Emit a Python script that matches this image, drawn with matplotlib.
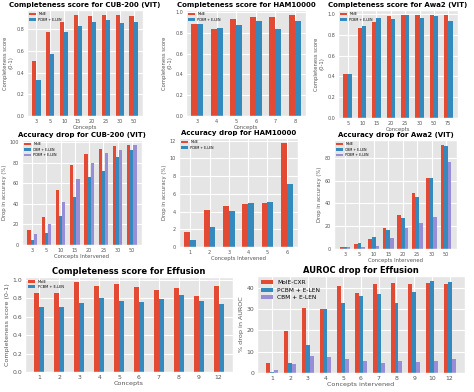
import matplotlib
matplotlib.use("Agg")
import matplotlib.pyplot as plt
import numpy as np

plt.style.use("ggplot")

W, H = 474, 392

# ---- data ----
cub_comp_cats = ["3", "5", "10", "15", "20", "25", "30", "50"]
cub_comp_moie = [0.51, 0.77, 0.87, 0.93, 0.92, 0.93, 0.93, 0.92]
cub_comp_pcbm = [0.33, 0.57, 0.77, 0.83, 0.87, 0.88, 0.86, 0.87]

ham_comp_cats = ["3", "4", "5", "6", "7", "8"]
ham_comp_moie = [0.88, 0.84, 0.93, 0.95, 0.95, 0.97]
ham_comp_pcbm = [0.88, 0.85, 0.87, 0.91, 0.84, 0.91]

awa_comp_cats = ["5", "10", "15", "20", "25", "30", "50", "75"]
awa_comp_moie = [0.42, 0.87, 0.92, 0.98, 0.99, 0.99, 0.99, 0.99]
awa_comp_pcbm = [0.42, 0.89, 0.96, 0.95, 0.99, 0.96, 0.98, 0.93]

cub_acc_cats = ["3", "5", "10", "15", "20", "25", "30", "50"]
cub_acc_moie = [15, 27, 53, 78, 88, 93, 96, 97]
cub_acc_cbm = [5, 12, 28, 47, 66, 72, 85, 92]
cub_acc_pcbm = [11, 20, 42, 64, 80, 89, 92, 97]

ham_acc_cats = ["1", "2", "3", "4", "5", "6"]
ham_acc_moie = [1.7, 4.2, 4.6, 4.9, 5.0, 11.7]
ham_acc_pcbm = [0.8, 2.2, 4.1, 5.0, 5.1, 7.1]

awa_acc_cats = ["3", "5", "10", "15", "20", "25", "30", "50"]
awa_acc_moie = [1.5, 4.5, 9, 18, 30, 49, 62, 91]
awa_acc_cbm = [1.5, 5, 10.5, 16.5, 27.5, 46, 62, 90]
awa_acc_pcbm = [1.5, 2, 3, 10, 18, 23, 28, 76]

eff_comp_cats = ["1", "2", "3", "4", "5", "6", "7", "8", "9", "12"]
eff_comp_moie = [0.86, 0.86, 0.98, 0.93, 0.95, 0.92, 0.89, 0.91, 0.82, 0.93]
eff_comp_pcbm = [0.70, 0.70, 0.75, 0.80, 0.77, 0.76, 0.79, 0.83, 0.77, 0.74]

eff_auroc_cats = ["1", "2", "3", "4", "5", "6", "7", "8", "9", "10", "12"]
eff_auroc_moie = [4.5, 19.8, 30.5, 30.3, 40.8, 37.6, 41.9, 42.3, 41.6, 42.1, 41.7]
eff_auroc_pcbm = [0.6, 4.7, 13.2, 30.1, 33.0, 36.0, 37.1, 32.7, 38.2, 43.4, 42.6]
eff_auroc_cbm = [1.6, 4.0, 7.8, 7.3, 6.4, 5.8, 4.6, 5.5, 5.4, 5.5, 6.5]

RED, BLUE, PURPLE = "#E24A33", "#348ABD", "#988ED5"

fig = plt.figure(figsize=(W / 100, H / 100), dpi=100)


def add_ax(l, t, r, b):
    return fig.add_axes([l / W, 1 - b / H, (r - l) / W, (b - t) / H])


def panel(ax, cats, series, labels, colors, width, title, xlabel, ylabel,
          tfs, lfs, tkfs, lgfs, yticks=None):
    x = np.arange(len(cats))
    n = len(series)
    for i, (vals, lab, col) in enumerate(zip(series, labels, colors)):
        off = (i - (n - 1) / 2) * width
        ax.bar(x + off, vals, width, label=lab, color=col)
    ax.set_xticks(x)
    ax.set_xticklabels(cats)
    if yticks is not None:
        ax.set_yticks(yticks)
    ax.tick_params(labelsize=tkfs, length=0, pad=2)
    ax.set_title(title, fontsize=tfs, fontweight="bold", color="black", pad=2)
    ax.set_xlabel(xlabel, fontsize=lfs, labelpad=1)
    ax.set_ylabel(ylabel, fontsize=lfs, labelpad=2)
    ax.legend(loc="upper left", fontsize=lgfs, frameon=False,
              handlelength=2, borderaxespad=0.3, labelspacing=0.4)


# Top row
ax = add_ax(27, 10, 143, 116)
panel(ax, cub_comp_cats, [cub_comp_moie, cub_comp_pcbm], ["MoIE", "PCBM + E-LEN"],
      [RED, BLUE], 0.3, "Completeness score for CUB-200 (VIT)", "Concepts",
      "Completeness score\n(0-1)", 5, 3.8, 3.5, 2.3)

ax = add_ax(186, 10, 306, 116)
panel(ax, ham_comp_cats, [ham_comp_moie, ham_comp_pcbm], ["MoIE", "PCBM + E-LEN"],
      [RED, BLUE], 0.3, "Completeness score for HAM10000", "Concepts",
      "Completeness score\n(0-1)", 5, 3.8, 3.5, 2.3)

ax = add_ax(338, 10, 458, 118)
panel(ax, awa_comp_cats, [awa_comp_moie, awa_comp_pcbm], ["MoIE", "PCBM + E-LEN"],
      [RED, BLUE], 0.3, "Completeness score for Awa2 (VIT)", "Concepts",
      "Completeness score\n(0-1)", 5, 3.8, 3.5, 2.3)

# Middle row
ax = add_ax(22, 140, 142, 245)
panel(ax, cub_acc_cats, [cub_acc_moie, cub_acc_cbm, cub_acc_pcbm],
      ["MoIE", "CBM + E-LEN", "PCBM + E-LEN"], [RED, BLUE, PURPLE], 0.22,
      "Accuracy drop for CUB-200 (VIT)", "Concepts Intervened",
      "Drop in accuracy (%)", 5, 3.8, 3.5, 2.3)

ax = add_ax(179, 138, 298, 247)
panel(ax, ham_acc_cats, [ham_acc_moie, ham_acc_pcbm], ["MoIE", "PCBM + E-LEN"],
      [RED, BLUE], 0.3, "Accuracy drop for HAM10000", "Concepts Intervened",
      "Drop in accuracy (%)", 5, 3.8, 3.5, 2.3)

ax = add_ax(334, 140, 457, 249)
panel(ax, awa_acc_cats, [awa_acc_moie, awa_acc_cbm, awa_acc_pcbm],
      ["MoIE", "CBM + E-LEN", "PCBM + E-LEN"], [RED, BLUE, PURPLE], 0.25,
      "Accuracy drop for Awa2 (VIT)", "Concepts Intervened",
      "Drop in accuracy (%)", 5, 3.8, 3.5, 2.3)

# Bottom row
ax = add_ax(25, 277, 233, 372)
panel(ax, eff_comp_cats, [eff_comp_moie, eff_comp_pcbm], ["MoIE", "PCBM + E-LEN"],
      [RED, BLUE], 0.25, "Completeness score for Effusion", "Concepts",
      "Completeness score (0-1)", 6, 4.6, 4.4, 2.6)

ax = add_ax(257, 276, 465, 373)
panel(ax, eff_auroc_cats, [eff_auroc_moie, eff_auroc_pcbm, eff_auroc_cbm],
      ["MoIE-CXR", "PCBM + E-LEN", "CBM + E-LEN"], [RED, BLUE, PURPLE], 0.22,
      "AUROC drop for Effusion", "Concepts intervened",
      "% drop in AUROC", 6, 4.6, 4.4, 4.2)

fig.savefig("out.png", dpi=100)
